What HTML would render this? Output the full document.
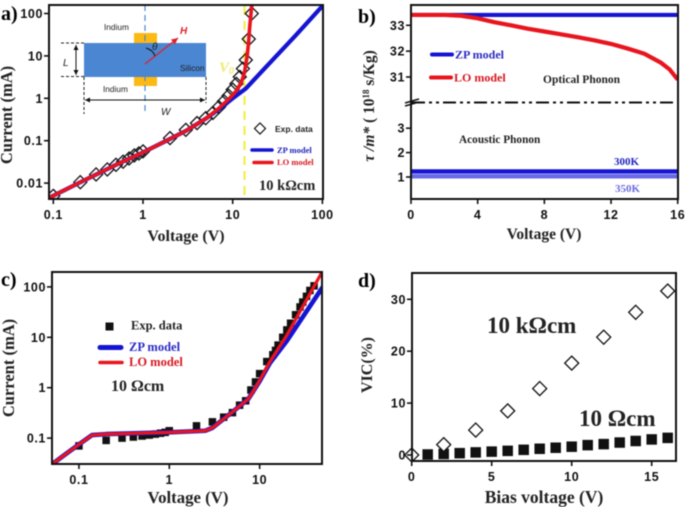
<!DOCTYPE html>
<html><head><meta charset="utf-8">
<style>
html,body{margin:0;padding:0;background:#fff;width:685px;height:507px;overflow:hidden}
svg{display:block;filter:blur(0.5px)}
text{font-family:"Liberation Sans",sans-serif}
.s{font-family:"Liberation Serif",serif;font-weight:bold;stroke:currentColor;stroke-width:0}
.tk{font-family:"Liberation Sans",sans-serif;font-weight:bold;font-size:12.5px;letter-spacing:.6px;fill:#111}
.in{font-family:"Liberation Sans",sans-serif;font-size:8.3px;fill:#222}
</style></head>
<body>
<svg id="fig" width="685" height="507" viewBox="0 0 685 507" xmlns="http://www.w3.org/2000/svg">
<defs>
<clipPath id="ca"><rect x="49" y="5" width="274" height="194"/></clipPath>
<clipPath id="cb"><rect x="411" y="5" width="267" height="194"/></clipPath>
<clipPath id="cc"><rect x="52" y="272" width="270" height="192"/></clipPath>
<clipPath id="cd"><rect x="412" y="273" width="264" height="188"/></clipPath>
<marker id="ah" markerWidth="6" markerHeight="6" refX="5" refY="3" orient="auto-start-reverse"><path d="M0,0.5 L5,3 L0,5.5 Z" fill="#111"/></marker>
<marker id="ar" markerWidth="6" markerHeight="6" refX="5" refY="3" orient="auto"><path d="M0,0.5 L5,3 L0,5.5 Z" fill="#e0202c"/></marker>
</defs>

<g>
  <rect x="134" y="33" width="23" height="10" fill="#fdb913"/>
  <rect x="134" y="76" width="23" height="10" fill="#fdb913"/>
  <rect x="84" y="43" width="122" height="34" fill="#4a86d2"/>
  <line x1="145" y1="5" x2="145" y2="114" stroke="#4a86d2" stroke-width="1.2" stroke-dasharray="6 4"/>
  <path d="M61,43H84M61,76.500H84M84,77V114M206,77V103" fill="none" stroke="#222" stroke-width="1" stroke-dasharray="3 2"/>
  <line x1="76" y1="45" x2="76" y2="75" stroke="#111" stroke-width="1" marker-start="url(#ah)" marker-end="url(#ah)"/>
  <line x1="85" y1="100" x2="205" y2="100" stroke="#111" stroke-width="1" marker-start="url(#ah)" marker-end="url(#ah)"/>
  <line x1="145" y1="64" x2="178" y2="38" stroke="#e0202c" stroke-width="1.3" marker-end="url(#ar)"/>
  <path d="M146,48 Q153,50 155,56" fill="none" stroke="#111" stroke-width="1"/>
  <text class="in" x="104" y="30">Indium</text>
  <text class="in" x="103" y="92">Indium</text>
  <text class="in" x="180" y="71">Silicon</text>
  <text x="63" y="66" font-size="10" font-style="italic" fill="#222">L</text>
  <text x="161" y="115" font-size="10" font-style="italic" fill="#222">W</text>
  <text x="180" y="34" font-size="10" font-weight="bold" font-style="italic" fill="#e0202c">H</text>
  <text x="152" y="50" font-size="10" font-style="italic" fill="#222">θ</text>
  <line x1="244.500" y1="6" x2="244.500" y2="199" stroke="#f4ee3c" stroke-width="2" stroke-dasharray="9 6"/>
  <text class="s" x="219" y="72" font-size="15" font-style="italic" fill="#f0ea70">V<tspan font-size="10" dy="2">0</tspan></text>
</g>
<g id="marks"></g>

<g id="frames"></g>

<g>
  <text class="s" x="1" y="20" font-size="20">a)</text>
  <text class="s" transform="translate(12,115) rotate(-90)" text-anchor="middle" font-size="16.500" fill="#222">Current (mA)</text>
  <text class="s" x="186" y="241" text-anchor="middle" font-size="16" fill="#222">Voltage (V)</text>
  <path d="M260,123 L265.500,128.500 L260,134 L254.500,128.500 Z" fill="#fff" stroke="#111" stroke-width="1.2"/>
  <text x="275" y="132" font-size="8.500" font-weight="bold" fill="#222">Exp. data</text>
  <line x1="252" y1="150" x2="272" y2="150" stroke="#1414d2" stroke-width="3.500" stroke-linecap="round"/>
  <text class="s" x="277" y="153" font-size="8.500" fill="#2222c0">ZP model</text>
  <line x1="254" y1="162.500" x2="272" y2="162.500" stroke="#e8141e" stroke-width="3.500" stroke-linecap="round"/>
  <text class="s" x="277" y="165" font-size="8.500" fill="#d81820">LO model</text>
  <text class="s" x="259" y="190" font-size="14.500" fill="#222">10 kΩcm</text>
</g>

<g>
  <text class="s" x="358" y="23" font-size="20">b)</text>
  <text class="s" transform="translate(374,106) rotate(-90)" text-anchor="middle" font-size="15.500" fill="#222"><tspan font-style="italic">τ /m*</tspan> ( 10<tspan font-size="9" dy="-5">18</tspan><tspan dy="5"> s/Kg)</tspan></text>
  <text class="s" x="544" y="239" text-anchor="middle" font-size="15.500" fill="#222">Voltage (V)</text>
  <line x1="432" y1="54.500" x2="452" y2="54.500" stroke="#1414d2" stroke-width="4" stroke-linecap="round"/>
  <text class="s" x="455" y="58.500" font-size="12" fill="#2a2ac4">ZP model</text>
  <line x1="431" y1="77.500" x2="451" y2="77.500" stroke="#e8141e" stroke-width="4" stroke-linecap="round"/>
  <text class="s" x="454" y="81.500" font-size="12" fill="#d81820">LO model</text>
  <text class="s" x="543" y="83" font-size="11.500" fill="#222">Optical Phonon</text>
  <text class="s" x="459" y="143" font-size="11.300" fill="#222">Acoustic Phonon</text>
  <text class="s" x="614" y="165" font-size="11" fill="#2222c0">300K</text>
  <text class="s" x="615" y="192" font-size="11" fill="#6a6ae0">350K</text>
  <line x1="412" y1="102.500" x2="677" y2="102.500" stroke="#111" stroke-width="2" stroke-dasharray="13 4 3 4 3 4"/>
  <path d="M405,103 L419,99 M405,106 L419,102" stroke="#111" stroke-width="1.500" fill="none"/>
</g>

<g>
  <text class="s" x="1" y="286" font-size="20">c)</text>
  <text class="s" transform="translate(14,368) rotate(-90)" text-anchor="middle" font-size="16.500" fill="#222">Current (mA)</text>
  <text class="s" x="188" y="503" text-anchor="middle" font-size="16.800" fill="#222">Voltage (V)</text>
  <rect x="105.500" y="322.500" width="8" height="8" fill="#111"/>
  <text class="s" x="131" y="329.500" font-size="12.500" fill="#222">Exp. data</text>
  <line x1="100" y1="347.500" x2="121" y2="347.500" stroke="#1414d2" stroke-width="5" stroke-linecap="round"/>
  <text class="s" x="129" y="351" font-size="12.500" fill="#2a2ac4">ZP model</text>
  <line x1="100" y1="362.500" x2="122" y2="362.500" stroke="#e8141e" stroke-width="3.500" stroke-linecap="round"/>
  <text class="s" x="129" y="366" font-size="12.500" fill="#d81820">LO model</text>
  <text class="s" x="111" y="391" font-size="16" fill="#222">10 Ωcm</text>
</g>

<g>
  <text class="s" x="358" y="287" font-size="20">d)</text>
  <text class="s" transform="translate(372,365) rotate(-90)" text-anchor="middle" font-size="16" fill="#222">VIC(%)</text>
  <text class="s" x="544" y="503" text-anchor="middle" font-size="17.500" fill="#222">Bias voltage (V)</text>
  <text class="s" x="487" y="333" font-size="23" fill="#222">10 kΩcm</text>
  <text class="s" x="579" y="426" font-size="23" fill="#222">10 Ωcm</text>
</g>
</svg>

<script>
// Panel a
const aExpV = [0.1,0.2,0.3,0.4,0.5,0.6,0.7,0.8,0.9,1,2,3,4,5,6,7,8,9,10,11,12,13,14,15.1,16.3];
const aExpI = [0.005,0.0105,0.016,0.021,0.027,0.032,0.038,0.045,0.05,0.056,0.115,0.18,0.26,0.34,0.45,0.62,0.85,1.15,1.6,2.2,3.2,5,8,25,100];
const aZpV = [0.09,0.2,0.5,1,2,3,5,7,10,14,20,50,100];
const aZpI = [0.0045,0.0105,0.027,0.053,0.11,0.17,0.33,0.55,1.0,1.7,3.8,30,150];
const aLoV = [0.09,0.2,0.5,1,2,3,5,7,9,11,12.5,13.5,14.5,15,15.5,16,16.4];
const aLoI = [0.0045,0.0105,0.027,0.053,0.11,0.17,0.33,0.58,0.95,1.5,2.4,4,10,20,50,100,180];
const aXTicks = [0.1,1,10,100];
const aXLabels = ['0.1','1','10','100'];
const aYTicks = [0.01,0.1,1,10,100];
const aYLabels = ['0.01','0.1','1','10','100'];
// Panel b
const bV = [0,1,2,3,4,5,6,7,8,9,10,11,12,13,14,15,15.5,16];
const bLo = [33.4,33.4,33.4,33.37,33.27,33.12,33,32.87,32.76,32.65,32.54,32.42,32.28,32.1,31.9,31.55,31.3,30.9];
const bZp = [33.4,33.4];
const bZpV = [0,16];
const b300 = [1.23,1.23];
const b350 = [1.03,1.03];
const bXTicks = [0,4,8,12,16];
const bUpperTicks = [31,32,33];
const bLowerTicks = [1,2,3];
// Panel c
const cExpV = [0.1,0.2,0.3,0.4,0.5,0.6,0.7,0.8,0.9,1,2,3,4,5,6,7,8,9,10,12,14,15,16,18,20,22,25,28,30,33,36,40];
const cExpI = [0.07,0.09,0.1,0.105,0.11,0.115,0.12,0.125,0.13,0.14,0.175,0.21,0.26,0.32,0.45,0.55,0.9,1.3,1.9,3.3,4.5,5.5,7,10,14,19,28,40,50,65,85,105];
const cZpV = [0.05,0.07,0.1,0.14,0.2,1,2.5,3,5,7.5,8.5,10,13,20,50];
const cZpI = [0.03,0.047,0.075,0.115,0.12,0.13,0.14,0.16,0.33,0.6,0.85,1.35,3.1,8.5,100];
const cLoV = [0.05,0.07,0.1,0.14,0.2,1,2.5,3,5,7.5,8.5,10,13,20,50];
const cLoI = [0.03,0.047,0.075,0.115,0.12,0.13,0.14,0.16,0.33,0.6,0.85,1.4,3.3,11,210];
const cXTicks = [0.1,1,10];
const cXLabels = ['0.1','1','10'];
const cYTicks = [0.1,1,10,100];
const cYLabels = ['0.1','1','10','100'];
// Panel d
const dKV = [0,2,4,6,8,10,12,14,16];
const dKVic = [0,2,4.8,8.5,12.8,17.7,22.7,27.5,31.6];
const dOV = [1,2,3,4,5,6,7,8,9,10,11,12,13,14,15,16];
const dOVic = [0.1,0.2,0.35,0.5,0.65,0.8,1,1.2,1.4,1.6,1.9,2.1,2.4,2.7,3,3.3];
const dXTicks = [0,5,10,15];
const dYTicks = [0,10,20,30];

// Axis functions
const ax = v => 143 + 89.7 * Math.log10(v);
const ay = v => 98.3 - 42.4 * Math.log10(v);
const bx = v => 411 + 16.67 * v;
const byU = v => 25.3 - 25.85 * (v - 33);
const byL = v => 177 - 24.4 * (v - 1);
const cx = v => 169.3 + 90.35 * Math.log10(v);
const cy = v => 387.7 - 50.4 * Math.log10(v);
const dx = v => 411.7 + 16 * v;
const dy = v => 455 - 5.19 * v;

const NS = 'http://www.w3.org/2000/svg';
const marks = document.getElementById('marks');
const frames = document.getElementById('frames');
function mk(tag, attrs, parent) {
  const el = document.createElementNS(NS, tag);
  for (const k in attrs) el.setAttribute(k, attrs[k]);
  (parent || marks).appendChild(el);
  return el;
}
function pathOf(xs, ys, fx, fy) {
  return xs.map((v, i) => (i ? 'L' : 'M') + fx(v).toFixed(2) + ',' + fy(ys[i]).toFixed(2)).join(' ');
}
function curve(xs, ys, fx, fy, color, w, clip, name) {
  const el = mk('path', {d: pathOf(xs, ys, fx, fy), fill: 'none', stroke: color, 'stroke-width': w, 'stroke-linejoin': 'round', 'clip-path': 'url(#' + clip + ')'});
  
  
}
function diamonds(xs, ys, fx, fy, r, sw, fill, clip, name) {
  xs.forEach((v, i) => {
    const x = fx(v), y = fy(ys[i]);
    const el = mk('path', {d: `M${x},${y - r} L${x + r},${y} L${x},${y + r} L${x - r},${y} Z`, fill: fill, stroke: '#111', 'stroke-width': sw, 'clip-path': clip ? 'url(#' + clip + ')' : 'none'});
    
    
  });
}
function squares(xs, ys, fx, fy, s, name) {
  xs.forEach((v, i) => {
    const el = mk('rect', {x: fx(v) - s / 2, y: fy(ys[i]) - s / 2, width: s, height: s, fill: '#111'});
    
    
  });
}
function frame(x, y, w, h, name) {
  const el = mk('rect', {x: x, y: y, width: w, height: h, fill: 'none', stroke: '#111', 'stroke-width': 2}, frames);
  
  
}
function xTicks(vals, labels, fx, yBase, name) {
  vals.forEach((v, i) => {
    const x = fx(v);
    const t = mk('line', {x1: x, x2: x, y1: yBase, y2: yBase + 5, stroke: '#111', 'stroke-width': 1.6}, frames);
    
    
    const l = mk('text', {x: x, y: yBase + 20, 'text-anchor': 'middle', class: 'tk'}, frames);
    l.textContent = labels[i];
    
    
  });
}
function yTicks(vals, labels, fy, xBase, name) {
  vals.forEach((v, i) => {
    const y = fy(v);
    const t = mk('line', {x1: xBase - 5, x2: xBase, y1: y, y2: y, stroke: '#111', 'stroke-width': 1.6}, frames);
    
    
    const l = mk('text', {x: xBase - 6, y: y + 4.5, 'text-anchor': 'end', class: 'tk'}, frames);
    l.textContent = labels[i];
    
    
  });
}

// Draw panel a
diamonds(aExpV, aExpI, ax, ay, 6.5, 1.3, 'none', 'ca', 'a-exp-point');
curve(aZpV, aZpI, ax, ay, '#1414d2', 4.2, 'ca', 'a-zp-curve');
curve(aLoV, aLoI, ax, ay, '#e8141e', 3.6, 'ca', 'a-lo-curve');
frame(49, 5, 274, 194, 'a-frame');
xTicks(aXTicks, aXLabels, ax, 199, 'a-x');
yTicks(aYTicks, aYLabels, ay, 49, 'a-y');

// Draw panel b
curve(bZpV, bZp, bx, byU, '#1414d2', 4.2, 'cb', 'b-zp-line');
curve(bV, bLo, bx, byU, '#e8141e', 4.2, 'cb', 'b-lo-curve');
curve(bZpV, b300, bx, byL, '#1414d2', 4.4, 'cb', 'b-300k-line');
curve(bZpV, b350, bx, byL, '#6a6ae6', 4.4, 'cb', 'b-350k-line');
frame(411, 5, 267, 194, 'b-frame');
xTicks(bXTicks, bXTicks.map(String), bx, 199, 'b-x');
yTicks(bUpperTicks, bUpperTicks.map(String), byU, 411, 'b-y-upper');
yTicks(bLowerTicks, bLowerTicks.map(String), byL, 411, 'b-y-lower');

// Draw panel c
squares(cExpV, cExpI, cx, cy, 7.5, 'c-exp-point');
curve(cZpV, cZpI, cx, cy, '#1414d2', 4.6, 'cc', 'c-zp-curve');
curve(cLoV, cLoI, cx, cy, '#e8141e', 3.2, 'cc', 'c-lo-curve');
frame(52, 272, 270, 192, 'c-frame');
xTicks(cXTicks, cXLabels, cx, 464, 'c-x');
yTicks(cYTicks, cYLabels, cy, 52, 'c-y');

// Draw panel d
squares(dOV, dOVic, dx, dy, 10.5, 'd-10-ohm-point');
diamonds(dKV, dKVic, dx, dy, 7, 1.3, '#fff', null, 'd-10k-point');
frame(412, 273, 264, 188, 'd-frame');
xTicks(dXTicks, dXTicks.map(String), dx, 461, 'd-x');
yTicks(dYTicks, dYTicks.map(String), dy, 412, 'd-y');
</script>
</body></html>
